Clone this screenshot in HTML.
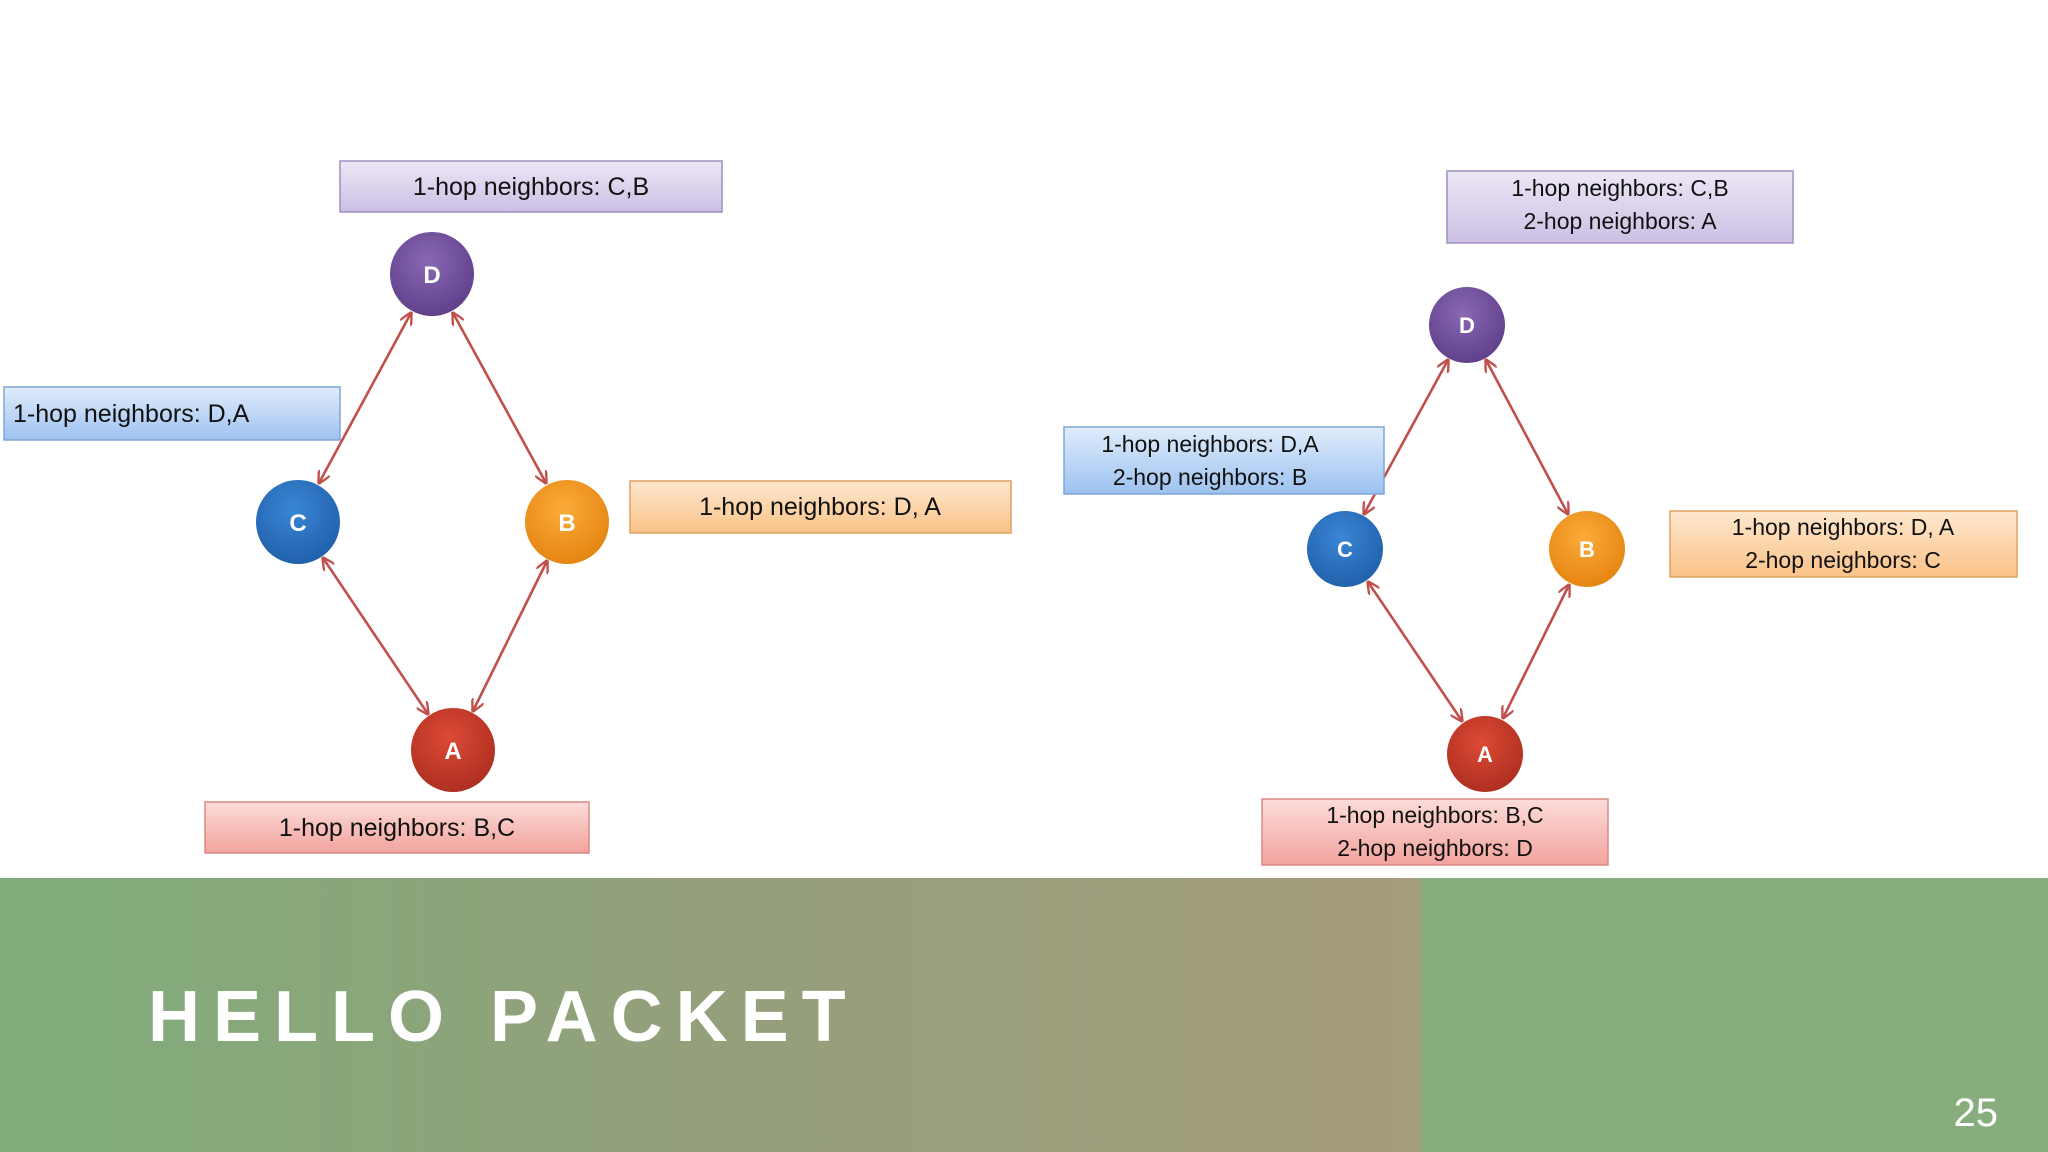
<!DOCTYPE html>
<html><head><meta charset="utf-8"><style>
html,body{margin:0;padding:0;width:2048px;height:1152px;overflow:hidden;background:#fff}
svg{display:block}
</style></head><body>
<svg width="2048" height="1152" viewBox="0 0 2048 1152" xmlns="http://www.w3.org/2000/svg">
<defs>
<linearGradient id="gp" x1="0" y1="0" x2="0" y2="1"><stop offset="0" stop-color="#ede8f6"/><stop offset="1" stop-color="#cbbfe4"/></linearGradient>
<linearGradient id="gb" x1="0" y1="0" x2="0" y2="1"><stop offset="0" stop-color="#e0ecfb"/><stop offset="1" stop-color="#9dc2f0"/></linearGradient>
<linearGradient id="go" x1="0" y1="0" x2="0" y2="1"><stop offset="0" stop-color="#fee8cf"/><stop offset="1" stop-color="#f9c287"/></linearGradient>
<linearGradient id="gr" x1="0" y1="0" x2="0" y2="1"><stop offset="0" stop-color="#fcdcd9"/><stop offset="1" stop-color="#f2a39d"/></linearGradient>
<radialGradient id="cp" cx="0.45" cy="0.35" r="0.7"><stop offset="0" stop-color="#8a68b4"/><stop offset="1" stop-color="#5c3d86"/></radialGradient>
<radialGradient id="cb" cx="0.45" cy="0.35" r="0.7"><stop offset="0" stop-color="#3a86d6"/><stop offset="1" stop-color="#1f5ea8"/></radialGradient>
<radialGradient id="co" cx="0.45" cy="0.35" r="0.7"><stop offset="0" stop-color="#fbab3a"/><stop offset="1" stop-color="#e4820f"/></radialGradient>
<radialGradient id="cr" cx="0.45" cy="0.35" r="0.7"><stop offset="0" stop-color="#dd4a35"/><stop offset="1" stop-color="#ab2d1f"/></radialGradient>
<linearGradient id="band" x1="0" y1="0" x2="1" y2="0"><stop offset="0" stop-color="#7fad7b"/><stop offset="0.5" stop-color="#949f7b"/><stop offset="1" stop-color="#a49c7c"/></linearGradient>
<marker id="ah" viewBox="0 0 10 10" refX="9" refY="5" markerWidth="5" markerHeight="5" orient="auto-start-reverse" markerUnits="strokeWidth"><path d="M0,0 L10,5 L0,10" fill="none" stroke="#c0504d" stroke-width="1.8"/></marker>
</defs>
<g font-family="'Liberation Sans', sans-serif" font-size="25" fill="#111" text-anchor="middle">
<rect x="340" y="161" width="382" height="51" fill="url(#gp)" stroke="#9d90c1" stroke-width="1.5"/>
<text x="531" y="195">1-hop neighbors: C,B</text>
<rect x="4" y="387" width="336" height="53" fill="url(#gb)" stroke="#7fa6d6" stroke-width="1.5"/>
<text x="13" y="422" text-anchor="start">1-hop neighbors: D,A</text>
<rect x="630" y="481" width="381" height="52" fill="url(#go)" stroke="#dea263" stroke-width="1.5"/>
<text x="820" y="515">1-hop neighbors: D, A</text>
<rect x="205" y="802" width="384" height="51" fill="url(#gr)" stroke="#d88a83" stroke-width="1.5"/>
<text x="397" y="836">1-hop neighbors: B,C</text>
</g>
<g stroke="#c0504d" stroke-width="2.6" marker-start="url(#ah)" marker-end="url(#ah)">
<line x1="411" y1="313" x2="319" y2="483"/>
<line x1="453" y1="313" x2="546" y2="483"/>
<line x1="323" y1="558" x2="428" y2="714"/>
<line x1="547" y1="561" x2="473" y2="711"/>
<line x1="1448" y1="360" x2="1364" y2="514"/>
<line x1="1486" y1="360" x2="1568" y2="514"/>
<line x1="1368" y1="582" x2="1462" y2="721"/>
<line x1="1569" y1="585" x2="1503" y2="718"/>
</g>
<g font-family="'Liberation Sans', sans-serif" font-weight="bold" fill="#fff" text-anchor="middle">
<circle cx="432" cy="274" r="42" fill="url(#cp)"/><text x="432" y="283" font-size="24">D</text>
<circle cx="298" cy="522" r="42" fill="url(#cb)"/><text x="298" y="531" font-size="24">C</text>
<circle cx="567" cy="522" r="42" fill="url(#co)"/><text x="567" y="531" font-size="24">B</text>
<circle cx="453" cy="750" r="42" fill="url(#cr)"/><text x="453" y="759" font-size="24">A</text>
<circle cx="1467" cy="325" r="38" fill="url(#cp)"/><text x="1467" y="333" font-size="22">D</text>
<circle cx="1345" cy="549" r="38" fill="url(#cb)"/><text x="1345" y="557" font-size="22">C</text>
<circle cx="1587" cy="549" r="38" fill="url(#co)"/><text x="1587" y="557" font-size="22">B</text>
<circle cx="1485" cy="754" r="38" fill="url(#cr)"/><text x="1485" y="762" font-size="22">A</text>
</g>
<g font-family="'Liberation Sans', sans-serif" font-size="23" fill="#111" text-anchor="middle">
<rect x="1447" y="171" width="346" height="72" fill="url(#gp)" stroke="#9d90c1" stroke-width="1.5"/>
<text x="1620" y="196">1-hop neighbors: C,B</text><text x="1620" y="229">2-hop neighbors: A</text>
<rect x="1064" y="427" width="320" height="67" fill="url(#gb)" stroke="#7fa6d6" stroke-width="1.5"/>
<text x="1210" y="452">1-hop neighbors: D,A</text><text x="1210" y="485">2-hop neighbors: B</text>
<rect x="1670" y="511" width="347" height="66" fill="url(#go)" stroke="#dea263" stroke-width="1.5"/>
<text x="1843" y="535">1-hop neighbors: D, A</text><text x="1843" y="568">2-hop neighbors: C</text>
<rect x="1262" y="799" width="346" height="66" fill="url(#gr)" stroke="#d88a83" stroke-width="1.5"/>
<text x="1435" y="823">1-hop neighbors: B,C</text><text x="1435" y="856">2-hop neighbors: D</text>
</g>
<rect x="0" y="878" width="1421" height="274" fill="url(#band)"/>
<rect x="1421" y="878" width="627" height="274" fill="#87ad7d"/>
<text x="148" y="1041" font-family="'Liberation Sans', sans-serif" font-weight="bold" font-size="72" letter-spacing="13" fill="#fff">HELLO PACKET</text>
<text x="1998" y="1126" text-anchor="end" font-family="'Liberation Sans', sans-serif" font-size="40" fill="#fff">25</text>
</svg>
</body></html>
